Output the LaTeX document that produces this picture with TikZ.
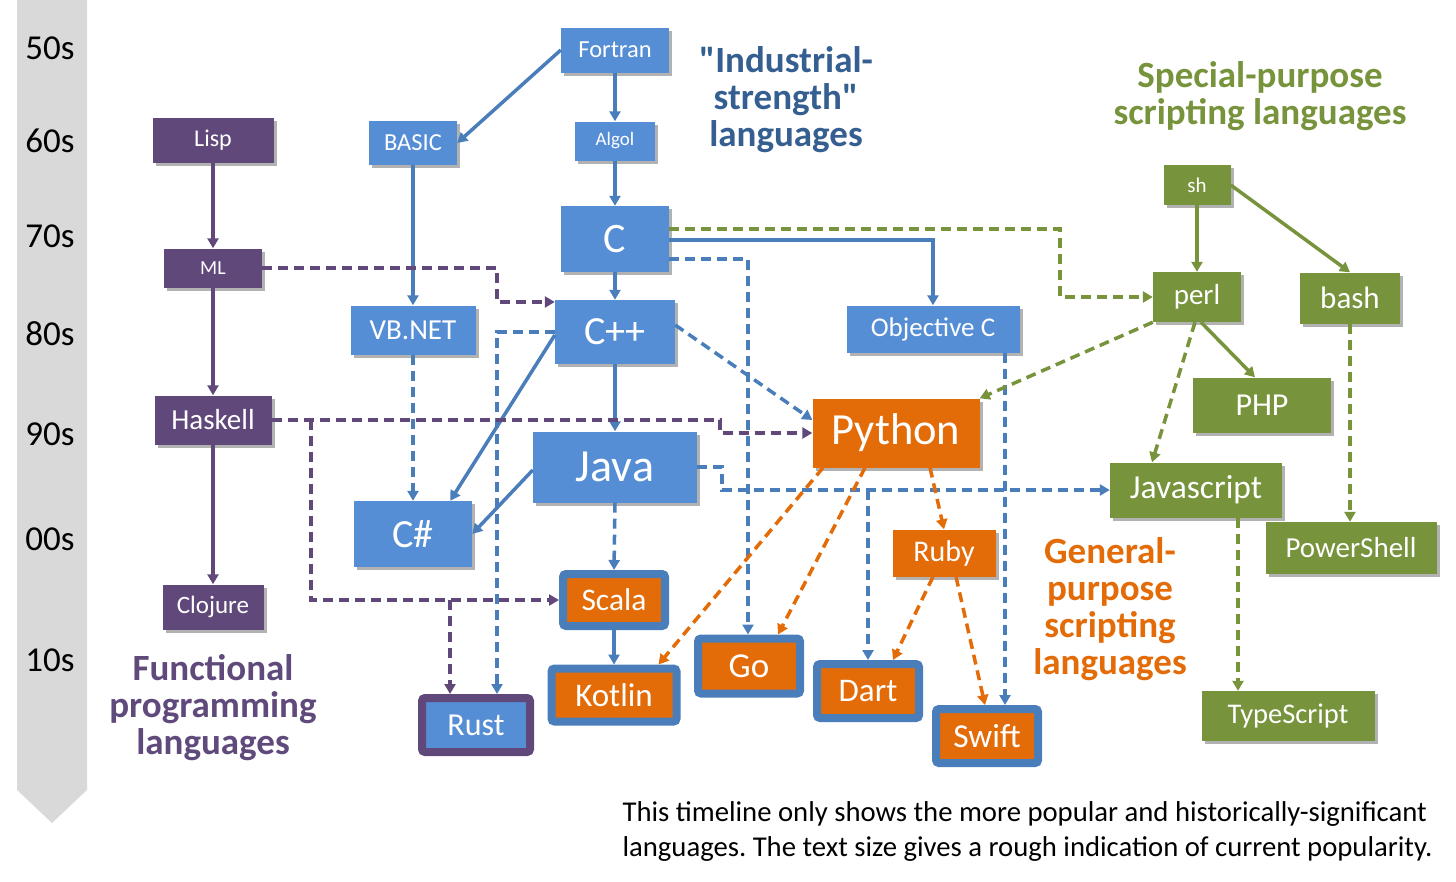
\documentclass[tikz,border=0pt]{standalone}
\usepackage{fontspec}
\setmainfont{Carlito}
\newfontfamily\plainfont{Carlito}[Ligatures=TeXOff]
\usetikzlibrary{arrows.meta,shadows,calc}
\definecolor{bxblue}{RGB}{85,142,213}
\definecolor{lnblue}{RGB}{74,126,187}
\definecolor{bxpurple}{RGB}{96,73,122}
\definecolor{bxgreen}{RGB}{119,147,60}
\definecolor{bxorange}{RGB}{227,108,9}
\definecolor{lblblue}{RGB}{54,95,145}
\definecolor{lblpurple}{RGB}{96,74,123}
\definecolor{tlgray}{RGB}{217,217,217}
\newcommand\myfs[1]{\fontsize{#1}{#1}\selectfont}
\tikzset{
  box/.style={rectangle, inner sep=0pt, text=white,
    drop shadow={shadow xshift=3pt, shadow yshift=-3pt, opacity=0.3, fill=black}},
  blbox/.style={box, fill=bxblue},
  pubox/.style={box, fill=bxpurple},
  grbox/.style={box, fill=bxgreen},
  orbox/.style={box, fill=bxorange},
  dbbox/.style={box, fill=bxorange, draw=lnblue, line width=8pt, rounded corners=3pt},
  rsbox/.style={box, fill=bxblue, draw=bxpurple, line width=8pt, rounded corners=3pt},
  conn/.style={line width=3.5pt, -{Triangle[length=10pt,width=11pt]}},
  bl/.style={conn, draw=lnblue},
  pu/.style={conn, draw=bxpurple},
  gr/.style={conn, draw=bxgreen},
  orr/.style={conn, draw=bxorange},
  dsh/.style={dash pattern=on 10pt off 6pt},
  lbl/.style={font=\bfseries\myfs{37}, align=center},
}
\begin{document}
\frenchspacing
\begin{tikzpicture}[x=1pt,y=-1pt]
\useasboundingbox (0,0) rectangle (1456,881);
% timeline
\fill[tlgray] (17,0) -- (87,0) -- (87,790) -- (52,823) -- (17,790) -- cycle;
\foreach \lab/\yy [count=\i] in {50s/48,60s/141,70s/236,80s/334,90s/434,00s/539,10s/660}
  \node[font=\myfs{35}] (t\i) at (50,\yy) {\lab};

% nodes
\node[blbox, minimum width=108pt, minimum height=45pt, font=\myfs{24.5}] (fortran) at (615,50) {Fortran};
\node[blbox, minimum width=80pt, minimum height=39pt, font=\myfs{19}] (algol) at (615,141) {Algol};
\node[blbox, minimum width=88pt, minimum height=44pt, font=\myfs{24.5}] (basic) at (413,143) {BASIC};
\node[pubox, minimum width=121pt, minimum height=45pt, font=\myfs{24}] (lisp) at (213,140) {Lisp};
\node[blbox, minimum width=108pt, minimum height=66pt, font=\myfs{42}] (c) at (615,239) {C};
\node[pubox, minimum width=98pt, minimum height=39pt, font=\myfs{20}] (ml) at (213,268) {ML};
\node[blbox, minimum width=120pt, minimum height=64pt, font=\myfs{40}] (cpp) at (615,332) {C++};
\node[blbox, minimum width=125pt, minimum height=49pt, font=\myfs{29}] (vbnet) at (413,330) {VB.NET};
\node[blbox, minimum width=173pt, minimum height=47pt, font=\myfs{27}] (objc) at (933,329) {Objective C};
\node[pubox, minimum width=117pt, minimum height=49pt, font=\myfs{29}] (haskell) at (213,420) {Haskell};
\node[orbox, minimum width=167pt, minimum height=69pt, font=\myfs{44.5}] (python) at (896,433) {Python};
\node[blbox, minimum width=164pt, minimum height=71pt, font=\myfs{46}] (java) at (615,467) {Java};
\node[blbox, minimum width=118pt, minimum height=66pt, font=\myfs{40}] (csharp) at (413,534) {C\#};
\node[pubox, minimum width=101pt, minimum height=45pt, font=\myfs{25}] (clojure) at (213,607) {Clojure};
\node[dbbox, minimum width=102pt, minimum height=52pt, font=\myfs{31.5}] (scala) at (614,600) {Scala};
\node[dbbox, minimum width=125pt, minimum height=53pt, font=\myfs{33}] (kotlin) at (614,695) {Kotlin};
\node[dbbox, minimum width=102pt, minimum height=55pt, font=\myfs{35}] (go) at (749,666) {Go};
\node[dbbox, minimum width=102pt, minimum height=54pt, font=\myfs{33}] (dart) at (868,691) {Dart};
\node[dbbox, minimum width=102pt, minimum height=54pt, font=\myfs{33.5}] (swift) at (987,736) {Swift};
\node[rsbox, minimum width=108pt, minimum height=54pt, font=\myfs{32}] (rust) at (476,725) {Rust};
\node[orbox, minimum width=103pt, minimum height=47pt, font=\myfs{30}] (ruby) at (944,553) {Ruby};
\node[grbox, minimum width=67pt, minimum height=40pt, font=\myfs{21}] (sh) at (1197,185) {sh};
\node[grbox, minimum width=88pt, minimum height=50pt, font=\myfs{29}] (perl) at (1197,297) {perl};
\node[grbox, minimum width=100pt, minimum height=51pt, font=\myfs{31}] (bash) at (1350,298) {bash};
\node[grbox, minimum width=138pt, minimum height=55pt, font=\myfs{32}] (php) at (1262,405) {PHP};
\node[grbox, minimum width=172pt, minimum height=55pt, font=\myfs{33.5}] (js) at (1196,490) {Javascript};
\node[grbox, minimum width=171pt, minimum height=52pt, font=\myfs{29}] (ps) at (1351,548) {PowerShell};
\node[grbox, minimum width=173pt, minimum height=50pt, font=\myfs{28.5}] (ts) at (1288,716) {TypeScript};

% labels
\node[lbl, text=lblblue, font=\plainfont\bfseries\myfs{37}] (lind) at (786,100) {"Industrial-\\strength"\\languages};
\node[lbl, text=bxgreen] (lspec) at (1260,96) {Special-purpose\\scripting languages};
\node[lbl, text=bxorange] (lgen) at (1110,609) {General-\\purpose\\scripting\\languages};
\node[lbl, text=lblpurple] (lfun) at (213,708) {Functional\\programming\\languages};
\node[anchor=west, align=left, font=\fontsize{28.7}{35}\selectfont] (note) at (619,831)
  {This timeline only shows the more popular and historically-significant\\languages. The text size gives a rough indication of current popularity.};

% coordinates for branches
\coordinate (hj) at (311,420);
\coordinate (rj) at (450,600);

% blue connectors
\draw[bl] (fortran.west) -- (basic.east);
\draw[bl] (fortran.south) -- (algol.north);
\draw[bl] (algol.south) -- (c.north);
\draw[bl] (basic.south) -- (vbnet.north);
\draw[bl] (c.south) -- (cpp.north);
\draw[bl] ($(c.east)+(0,1)$) -| (objc.north);
\draw[bl,dsh] ($(c.east)+(0,20)$) -| ([xshift=-1pt]go.north);
\draw[bl,dsh] (cpp.west) -| ([xshift=21pt]rust.north);
\draw[bl] ($(cpp.west)+(0,3)$) -- ([xshift=-22pt]csharp.north east);
\draw[bl] ($(java.west)+(0,3)$) -- (csharp.east);
\draw[bl,dsh] (vbnet.south) -- (csharp.north);
\draw[bl] (cpp.south) -- (java.north);
\draw[bl,dsh] ($(cpp.east)+(0,-7)$) -- ($(python.west)+(0,-13)$);
\draw[bl,dsh] (java.east) -- ++(25,0) |- (js.west);
\draw[bl,dsh] (js.west -| dart.north) -- (dart.north);
\draw[bl,dsh] (java.south) -- (scala.north);
\draw[bl] (scala.south) -- (kotlin.north);
\draw[bl,dsh] ([xshift=72pt]objc.south) -- ([xshift=18pt]swift.north);

% purple connectors
\draw[pu] (lisp.south) -- (ml.north);
\draw[pu] (ml.south) -- (haskell.north);
\draw[pu] (haskell.south) -- (clojure.north);
\draw[pu,dsh] (ml.east) -- (497,268) |- ($(cpp.west)+(0,-30)$);
\draw[pu,dsh] (haskell.east) -- (720,420) |- (python.west);
\draw[pu,dsh] (hj) |- (scala.west);
\draw[pu,dsh] (rj) -- (rj |- rust.north);

% orange connectors
\draw[orr,dsh] ($(python.south)+(-73,0)$) -- ([xshift=-22pt]kotlin.north east);
\draw[orr,dsh] ($(python.south)+(-31,0)$) -- ([xshift=-26pt]go.north east);
\draw[orr,dsh] ($(python.south)+(34,0)$) -- (ruby.north);
\draw[orr,dsh] ($(ruby.south)+(-11,0)$) -- ([xshift=-30pt]dart.north east);
\draw[orr,dsh] ($(ruby.south)+(12,0)$) -- ([xshift=-2pt]swift.north);

% green connectors
\draw[gr,dsh] ($(c.east)+(0,-10)$) -- (1060,229) |- (perl.west);
\draw[gr] (sh.south) -- (perl.north);
\draw[gr] (sh.east) -- (bash.north);
\draw[gr,dsh] (perl.south west) -- (python.north east);
\draw[gr] ([xshift=4pt]perl.south) -- ([xshift=-7pt]php.north);
\draw[gr,dsh] ([xshift=-2pt]perl.south) -- ([xshift=-44pt]js.north);
\draw[gr,dsh] (bash.south) -- (bash.south |- ps.north);
\draw[gr,dsh] ([xshift=42pt]js.south) -- ([xshift=-50pt]ts.north);
\end{tikzpicture}
\end{document}
